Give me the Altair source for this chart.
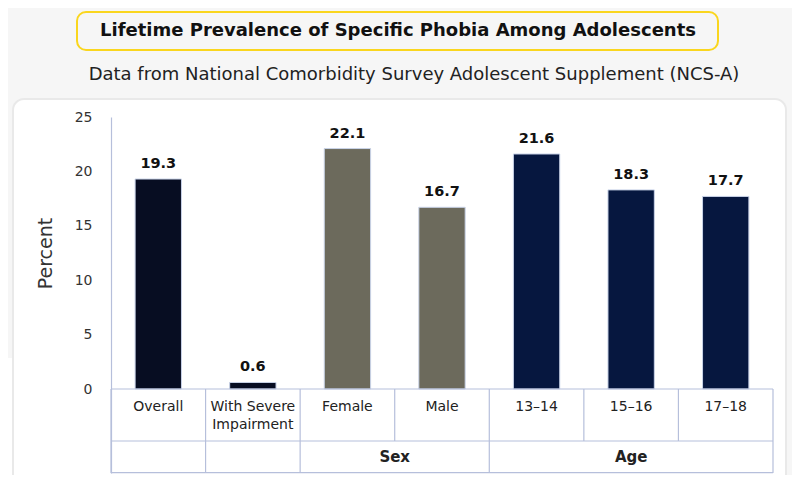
import altair as alt
import pandas as pd

# ---------------- data ----------------
categories = ["Overall", "With Severe\nImpairment", "Female", "Male", "13–14", "15–16", "17–18"]
values = [19.3, 0.6, 22.1, 16.7, 21.6, 18.3, 17.7]
tones = ["total", "total", "sex", "sex", "age", "age", "age"]
groups = ["g_overall", "g_severe", "Sex", "Sex", "Age", "Age", "Age"]
group_titles = {"g_overall": "", "g_severe": "", "Sex": "Sex", "Age": "Age"}
y_ticks = [0, 5, 10, 15, 20, 25]

title_text = "Lifetime Prevalence of Specific Phobia Among Adolescents"
subtitle_text = "Data from National Comorbidity Survey Adolescent Supplement (NCS-A)"

# ---------------- styling / layout ----------------
W, H = 662, 356
PX_PER_UNIT = 10.88
Y_MAX = 25
Y_MIN = Y_MAX - H / PX_PER_UNIT          # table area below zero
ROW1_TEXT = -11 / PX_PER_UNIT            # top of first table row text
ROW_SEP = -52 / PX_PER_UNIT              # separator between table rows
ROW2_TEXT = (ROW_SEP + Y_MIN) / 2
LINE = "#b6bfdb"
BG = "#f6f6f6"
tone_domain = ["total", "sex", "age"]
tone_range = ["#070d22", "#6c6a5c", "#06173f"]

bars_df = pd.DataFrame({"cat": categories, "value": values, "tone": tones, "group": groups})

# vertical table lines: left edge of every category; full depth if a group starts there
starts = [i == 0 or groups[i] != groups[i - 1] for i in range(len(categories))]
vlines_df = pd.DataFrame({
    "cat": categories,
    "top": [0.0] * len(categories),
    "bottom": [Y_MIN if s else ROW_SEP for s in starts],
})
right_df = pd.DataFrame({"cat": [categories[-1]], "top": [0.0], "bottom": [Y_MIN]})
hlines_df = pd.DataFrame({"yy": [0.0, ROW_SEP, Y_MIN + 0.03]})

# group labels (second table row)
even_rows, odd_rows = [], []
i = 0
while i < len(groups):
    j = i
    while j < len(groups) and groups[j] == groups[i]:
        j += 1
    n = j - i
    label = group_titles[groups[i]]
    if label:
        row = {"cat": categories[i + n // 2], "label": label, "yy": ROW2_TEXT}
        (even_rows if n % 2 == 0 else odd_rows).append(row)
    i = j
even_df = pd.DataFrame(even_rows)
odd_df = pd.DataFrame(odd_rows)
cat_text_df = pd.DataFrame({"cat": categories, "yy": [ROW1_TEXT] * len(categories)})

one = pd.DataFrame({"k": [0]})

xscale = alt.Scale(domain=categories, paddingInner=0, paddingOuter=0)
yscale = alt.Scale(domain=[Y_MIN, Y_MAX], nice=False, zero=False)

def X(bp=0.5):
    return alt.X("cat:N", scale=xscale, axis=None, bandPosition=bp, title=None)

# ---------------- decorative background ----------------
white_strip = alt.Chart(one).mark_rect(color="white").encode(
    x=alt.value(-111), x2=alt.value(674), y=alt.value(241), y2=alt.value(420))
shadow = alt.Chart(one).mark_rect(color="#e9e9e9", cornerRadius=12).encode(
    x=alt.value(-99), x2=alt.value(676), y=alt.value(-19), y2=alt.value(420))
panel = alt.Chart(one).mark_rect(color="white", cornerRadius=10).encode(
    x=alt.value(-97), x2=alt.value(674), y=alt.value(-17), y2=alt.value(420))
title_box = alt.Chart(one).mark_rect(fill=BG, stroke="#fad61e", strokeWidth=2, cornerRadius=9).encode(
    x=alt.value(-34), x2=alt.value(607), y=alt.value(-105), y2=alt.value(-67))
title = alt.Chart(one).mark_text(font="DejaVu Sans", fontSize=18, fontWeight="bold", color="#111",
                                 baseline="middle", align="center").encode(
    x=alt.value(287), y=alt.value(-86), text=alt.value(title_text))
subtitle = alt.Chart(one).mark_text(font="DejaVu Sans", fontSize=18, color="#222",
                                    baseline="middle", align="center").encode(
    x=alt.value(303), y=alt.value(-42), text=alt.value(subtitle_text))

# ---------------- bars ----------------
bars = alt.Chart(bars_df).mark_bar(width=alt.RelativeBandSize(0.49), stroke="#c9d3e8", strokeWidth=1).encode(
    x=X(),
    y=alt.Y("value:Q", scale=yscale,
            axis=alt.Axis(values=y_ticks, grid=False, ticks=False, domain=True, domainColor=LINE,
                          domainWidth=1.2, zindex=2,
                          labelPadding=19, labelFont="DejaVu Sans", labelFontSize=14, labelColor="#333",
                          title="Percent", titleFont="DejaVu Sans", titleFontSize=19,
                          titleFontWeight="normal", titleColor="#333", titleX=-66, titleY=136,
                          titleAngle=270, titleAlign="center", titleBaseline="middle")),
    y2=alt.datum(0),
    color=alt.Color("tone:N", scale=alt.Scale(domain=tone_domain, range=tone_range), legend=None),
)
value_labels = alt.Chart(bars_df).mark_text(font="DejaVu Sans", fontWeight="bold", fontSize=14.5,
                                            baseline="bottom", dy=-8, color="#111").encode(
    x=X(), y=alt.Y("value:Q", scale=yscale), text=alt.Text("value:Q", format=".1f"))

# ---------------- table ----------------
hlines = alt.Chart(hlines_df).mark_rule(color=LINE, strokeWidth=1.2).encode(
    x=alt.value(0), x2=alt.value(W), y=alt.Y("yy:Q", scale=yscale))
vlines = alt.Chart(vlines_df).mark_rule(color=LINE, strokeWidth=1.2).encode(
    x=X(0), y=alt.Y("top:Q", scale=yscale), y2="bottom:Q")
vright = alt.Chart(right_df).mark_rule(color=LINE, strokeWidth=1.2).encode(
    x=X(1), y=alt.Y("top:Q", scale=yscale), y2="bottom:Q")
cat_text = alt.Chart(cat_text_df).mark_text(font="DejaVu Sans", fontSize=14, color="#222",
                                            baseline="top", lineBreak="\n", lineHeight=18).encode(
    x=X(), y=alt.Y("yy:Q", scale=yscale), text="cat:N")
grp_even = alt.Chart(even_df).mark_text(font="DejaVu Sans", fontSize=15, fontWeight="bold",
                                        color="#222", baseline="middle").encode(
    x=X(0), y=alt.Y("yy:Q", scale=yscale), text="label:N")
grp_odd = alt.Chart(odd_df).mark_text(font="DejaVu Sans", fontSize=15, fontWeight="bold",
                                      color="#222", baseline="middle").encode(
    x=X(0.5), y=alt.Y("yy:Q", scale=yscale), text="label:N")

chart = alt.layer(
    white_strip, shadow, panel, title_box, title, subtitle,
    bars, value_labels, hlines, vlines, vright, cat_text, grp_even, grp_odd,
).properties(
    width=W, height=H,
    autosize=alt.AutoSizeParams(type="none"),
    padding={"left": 103, "top": 109, "right": 19, "bottom": 2},
    background=BG,
).configure_view(strokeWidth=0)

chart.save("out.html", embed_options={"renderer": "svg", "actions": False})
